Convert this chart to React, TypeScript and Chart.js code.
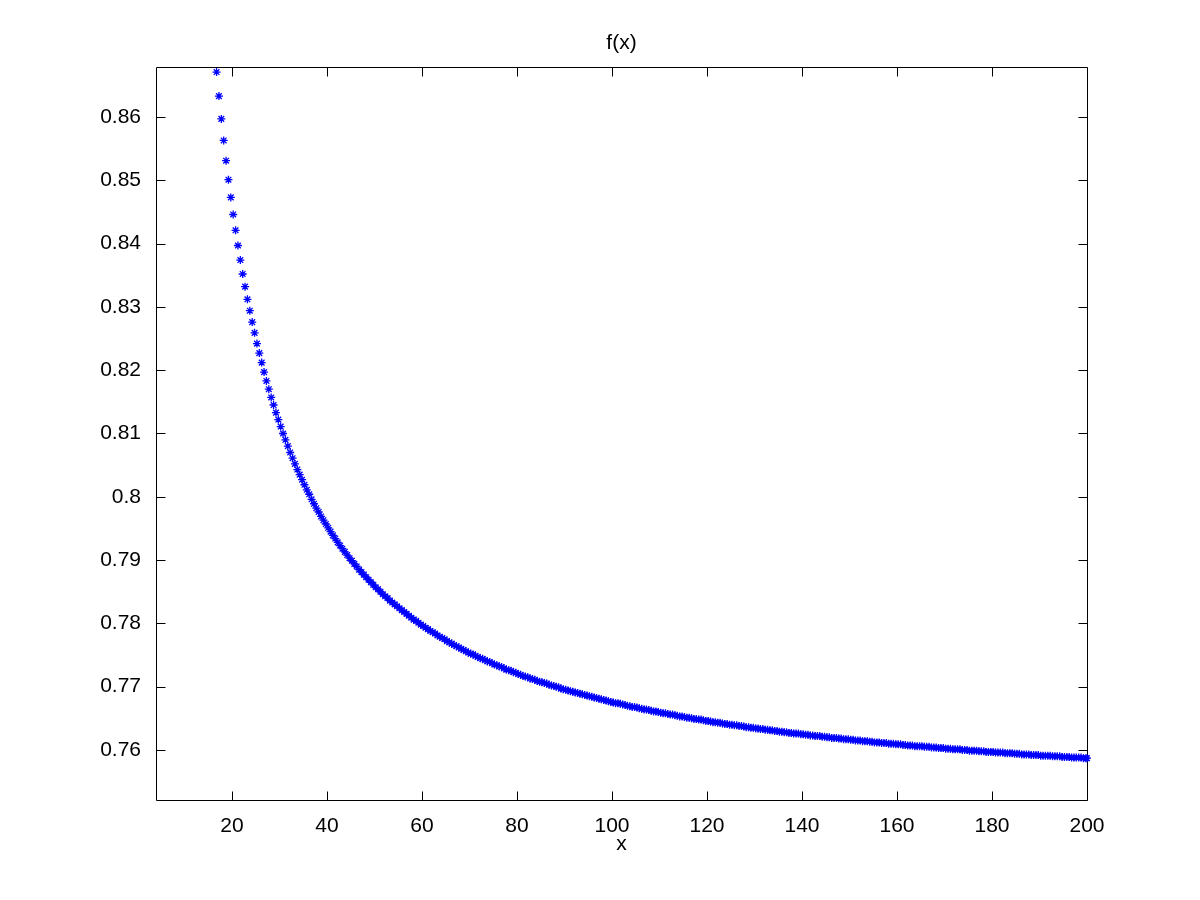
import React, { useEffect, useRef } from 'react';
import { Chart, registerables } from 'chart.js';

Chart.register(...registerables);

// ---- data (x, f(x)) ----
const xValues = [
  16.75, 17.25, 17.75, 18.25, 18.75, 19.25, 19.75, 20.25, 20.75, 21.25,
  21.75, 22.25, 22.75, 23.25, 23.75, 24.25, 24.75, 25.25, 25.75, 26.25,
  26.75, 27.25, 27.75, 28.25, 28.75, 29.25, 29.75, 30.25, 30.75, 31.25,
  31.75, 32.25, 32.75, 33.25, 33.75, 34.25, 34.75, 35.25, 35.75, 36.25,
  36.75, 37.25, 37.75, 38.25, 38.75, 39.25, 39.75, 40.25, 40.75, 41.25,
  41.75, 42.25, 42.75, 43.25, 43.75, 44.25, 44.75, 45.25, 45.75, 46.25,
  46.75, 47.25, 47.75, 48.25, 48.75, 49.25, 49.75, 50.25, 50.75, 51.25,
  51.75, 52.25, 52.75, 53.25, 53.75, 54.25, 54.75, 55.25, 55.75, 56.25,
  56.75, 57.25, 57.75, 58.25, 58.75, 59.25, 59.75, 60.25, 60.75, 61.25,
  61.75, 62.25, 62.75, 63.25, 63.75, 64.25, 64.75, 65.25, 65.75, 66.25,
  66.75, 67.25, 67.75, 68.25, 68.75, 69.25, 69.75, 70.25, 70.75, 71.25,
  71.75, 72.25, 72.75, 73.25, 73.75, 74.25, 74.75, 75.25, 75.75, 76.25,
  76.75, 77.25, 77.75, 78.25, 78.75, 79.25, 79.75, 80.25, 80.75, 81.25,
  81.75, 82.25, 82.75, 83.25, 83.75, 84.25, 84.75, 85.25, 85.75, 86.25,
  86.75, 87.25, 87.75, 88.25, 88.75, 89.25, 89.75, 90.25, 90.75, 91.25,
  91.75, 92.25, 92.75, 93.25, 93.75, 94.25, 94.75, 95.25, 95.75, 96.25,
  96.75, 97.25, 97.75, 98.25, 98.75, 99.25, 99.75, 100.25, 100.75, 101.25,
  101.75, 102.25, 102.75, 103.25, 103.75, 104.25, 104.75, 105.25, 105.75, 106.25,
  106.75, 107.25, 107.75, 108.25, 108.75, 109.25, 109.75, 110.25, 110.75, 111.25,
  111.75, 112.25, 112.75, 113.25, 113.75, 114.25, 114.75, 115.25, 115.75, 116.25,
  116.75, 117.25, 117.75, 118.25, 118.75, 119.25, 119.75, 120.25, 120.75, 121.25,
  121.75, 122.25, 122.75, 123.25, 123.75, 124.25, 124.75, 125.25, 125.75, 126.25,
  126.75, 127.25, 127.75, 128.25, 128.75, 129.25, 129.75, 130.25, 130.75, 131.25,
  131.75, 132.25, 132.75, 133.25, 133.75, 134.25, 134.75, 135.25, 135.75, 136.25,
  136.75, 137.25, 137.75, 138.25, 138.75, 139.25, 139.75, 140.25, 140.75, 141.25,
  141.75, 142.25, 142.75, 143.25, 143.75, 144.25, 144.75, 145.25, 145.75, 146.25,
  146.75, 147.25, 147.75, 148.25, 148.75, 149.25, 149.75, 150.25, 150.75, 151.25,
  151.75, 152.25, 152.75, 153.25, 153.75, 154.25, 154.75, 155.25, 155.75, 156.25,
  156.75, 157.25, 157.75, 158.25, 158.75, 159.25, 159.75, 160.25, 160.75, 161.25,
  161.75, 162.25, 162.75, 163.25, 163.75, 164.25, 164.75, 165.25, 165.75, 166.25,
  166.75, 167.25, 167.75, 168.25, 168.75, 169.25, 169.75, 170.25, 170.75, 171.25,
  171.75, 172.25, 172.75, 173.25, 173.75, 174.25, 174.75, 175.25, 175.75, 176.25,
  176.75, 177.25, 177.75, 178.25, 178.75, 179.25, 179.75, 180.25, 180.75, 181.25,
  181.75, 182.25, 182.75, 183.25, 183.75, 184.25, 184.75, 185.25, 185.75, 186.25,
  186.75, 187.25, 187.75, 188.25, 188.75, 189.25, 189.75, 190.25, 190.75, 191.25,
  191.75, 192.25, 192.75, 193.25, 193.75, 194.25, 194.75, 195.25, 195.75, 196.25,
  196.75, 197.25, 197.75, 198.25, 198.75, 199.25, 199.75, 200,
];

const yValues = [
  0.8671, 0.8633, 0.8597, 0.8563, 0.8531, 0.8501, 0.8473, 0.8446, 0.8421, 0.8397,
  0.8374, 0.8352, 0.8332, 0.8312, 0.8294, 0.8276, 0.8259, 0.8242, 0.8227, 0.8212,
  0.8197, 0.8183, 0.8170, 0.8157, 0.8145, 0.8133, 0.8122, 0.8111, 0.8100, 0.8090,
  0.8080, 0.8070, 0.8061, 0.8052, 0.8043, 0.8035, 0.8027, 0.8019, 0.8011, 0.8004,
  0.7996, 0.7989, 0.7982, 0.7976, 0.7969, 0.7963, 0.7957, 0.7951, 0.7945, 0.7939,
  0.7934, 0.7928, 0.7923, 0.7918, 0.7913, 0.7908, 0.7903, 0.7899, 0.7894, 0.7890,
  0.7885, 0.7881, 0.7877, 0.7873, 0.7869, 0.7865, 0.7861, 0.7857, 0.7854, 0.7850,
  0.7846, 0.7843, 0.7840, 0.7836, 0.7833, 0.7830, 0.7827, 0.7824, 0.7821, 0.7818,
  0.7815, 0.7812, 0.7809, 0.7806, 0.7804, 0.7801, 0.7798, 0.7796, 0.7793, 0.7791,
  0.7788, 0.7786, 0.7784, 0.7781, 0.7779, 0.7777, 0.7775, 0.7772, 0.7770, 0.7768,
  0.7766, 0.7764, 0.7762, 0.7760, 0.7758, 0.7756, 0.7754, 0.7752, 0.7751, 0.7749,
  0.7747, 0.7745, 0.7744, 0.7742, 0.7740, 0.7739, 0.7737, 0.7735, 0.7734, 0.7732,
  0.7731, 0.7729, 0.7727, 0.7726, 0.7725, 0.7723, 0.7722, 0.7720, 0.7719, 0.7717,
  0.7716, 0.7715, 0.7713, 0.7712, 0.7711, 0.7709, 0.7708, 0.7707, 0.7706, 0.7705,
  0.7703, 0.7702, 0.7701, 0.7700, 0.7699, 0.7697, 0.7696, 0.7695, 0.7694, 0.7693,
  0.7692, 0.7691, 0.7690, 0.7689, 0.7688, 0.7687, 0.7686, 0.7685, 0.7684, 0.7683,
  0.7682, 0.7681, 0.7680, 0.7679, 0.7678, 0.7677, 0.7676, 0.7675, 0.7674, 0.7674,
  0.7673, 0.7672, 0.7671, 0.7670, 0.7669, 0.7668, 0.7668, 0.7667, 0.7666, 0.7665,
  0.7664, 0.7664, 0.7663, 0.7662, 0.7661, 0.7661, 0.7660, 0.7659, 0.7658, 0.7658,
  0.7657, 0.7656, 0.7656, 0.7655, 0.7654, 0.7653, 0.7653, 0.7652, 0.7651, 0.7651,
  0.7650, 0.7649, 0.7649, 0.7648, 0.7648, 0.7647, 0.7646, 0.7646, 0.7645, 0.7644,
  0.7644, 0.7643, 0.7643, 0.7642, 0.7641, 0.7641, 0.7640, 0.7640, 0.7639, 0.7639,
  0.7638, 0.7638, 0.7637, 0.7636, 0.7636, 0.7635, 0.7635, 0.7634, 0.7634, 0.7633,
  0.7633, 0.7632, 0.7632, 0.7631, 0.7631, 0.7630, 0.7630, 0.7629, 0.7629, 0.7628,
  0.7628, 0.7627, 0.7627, 0.7626, 0.7626, 0.7626, 0.7625, 0.7625, 0.7624, 0.7624,
  0.7623, 0.7623, 0.7622, 0.7622, 0.7622, 0.7621, 0.7621, 0.7620, 0.7620, 0.7619,
  0.7619, 0.7619, 0.7618, 0.7618, 0.7617, 0.7617, 0.7617, 0.7616, 0.7616, 0.7615,
  0.7615, 0.7615, 0.7614, 0.7614, 0.7614, 0.7613, 0.7613, 0.7612, 0.7612, 0.7612,
  0.7611, 0.7611, 0.7611, 0.7610, 0.7610, 0.7610, 0.7609, 0.7609, 0.7609, 0.7608,
  0.7608, 0.7607, 0.7607, 0.7607, 0.7606, 0.7606, 0.7606, 0.7606, 0.7605, 0.7605,
  0.7605, 0.7604, 0.7604, 0.7604, 0.7603, 0.7603, 0.7603, 0.7602, 0.7602, 0.7602,
  0.7601, 0.7601, 0.7601, 0.7601, 0.7600, 0.7600, 0.7600, 0.7599, 0.7599, 0.7599,
  0.7599, 0.7598, 0.7598, 0.7598, 0.7597, 0.7597, 0.7597, 0.7597, 0.7596, 0.7596,
  0.7596, 0.7596, 0.7595, 0.7595, 0.7595, 0.7595, 0.7594, 0.7594, 0.7594, 0.7593,
  0.7593, 0.7593, 0.7593, 0.7592, 0.7592, 0.7592, 0.7592, 0.7591, 0.7591, 0.7591,
  0.7591, 0.7591, 0.7590, 0.7590, 0.7590, 0.7590, 0.7589, 0.7589, 0.7589, 0.7589,
  0.7588, 0.7588, 0.7588, 0.7588, 0.7588, 0.7587, 0.7587, 0.7587,
];

const xTicks = [20, 40, 60, 80, 100, 120, 140, 160, 180, 200];
const yTicks = [0.76, 0.77, 0.78, 0.79, 0.8, 0.81, 0.82, 0.83, 0.84, 0.85, 0.86];
const xLimits = [4, 200];
const yLimits = [0.7521, 0.8679];
const titleText = 'f(x)';
const xLabelText = 'x';

const FONT = "'Liberation Sans', Arial, Helvetica, sans-serif";
const FONT_SIZE = 21;
const TICK_LEN = 9;

const matlabAxesPlugin = {
  id: 'matlabAxes',
  beforeDatasetsDraw(chart: any) {
    const { ctx, chartArea, scales } = chart;
    const L = Math.round(chartArea.left) + 0.5;
    const R = Math.round(chartArea.right) + 0.5;
    const T = Math.round(chartArea.top) + 0.5;
    const B = Math.round(chartArea.bottom) + 0.5;
    ctx.save();
    ctx.strokeStyle = '#000000';
    ctx.lineWidth = 1;
    ctx.beginPath();
    ctx.rect(L, T, R - L, B - T);
    for (const t of scales.x.ticks) {
      const px = Math.round(scales.x.getPixelForValue(t.value)) + 0.5;
      ctx.moveTo(px, B);
      ctx.lineTo(px, B - TICK_LEN);
      ctx.moveTo(px, T);
      ctx.lineTo(px, T + TICK_LEN);
    }
    for (const t of scales.y.ticks) {
      const py = Math.round(scales.y.getPixelForValue(t.value)) + 0.5;
      ctx.moveTo(L, py);
      ctx.lineTo(L + TICK_LEN, py);
      ctx.moveTo(R, py);
      ctx.lineTo(R - TICK_LEN, py);
    }
    ctx.stroke();
    ctx.restore();
  },
};

export default function App() {
  const canvasRef = useRef<HTMLCanvasElement | null>(null);

  useEffect(() => {
    const canvas = canvasRef.current;
    if (!canvas) return;
    const points = xValues.map((x, i) => ({ x, y: yValues[i] }));
    const chart = new Chart(canvas, {
      type: 'scatter',
      data: {
        datasets: [
          {
            data: points,
            showLine: false,
            pointStyle: 'star',
            pointRadius: 4,
            pointHoverRadius: 4,
            borderColor: '#0000ff',
            backgroundColor: '#0000ff',
            borderWidth: 1.3,
            clip: false,
          } as any,
        ],
      },
      options: {
        responsive: false,
        maintainAspectRatio: false,
        animation: false,
        events: [],
        layout: { padding: { left: 0, top: 0, right: 113, bottom: 0 } },
        plugins: {
          legend: { display: false },
          tooltip: { enabled: false },
          title: {
            display: true,
            fullSize: false,
            text: titleText,
            color: '#000000',
            font: { family: FONT, size: FONT_SIZE, weight: 'normal' as any, lineHeight: 1.2 },
            padding: { top: 31, bottom: 10.8 },
          },
        },
        scales: {
          x: {
            type: 'linear',
            position: 'bottom',
            min: xLimits[0],
            max: xLimits[1],
            grid: { display: false },
            border: { display: false },
            afterBuildTicks: (scale: any) => {
              scale.ticks = xTicks.map((v) => ({ value: v }));
            },
            afterFit: (scale: any) => {
              scale.height = 100;
            },
            ticks: {
              autoSkip: false,
              maxRotation: 0,
              minRotation: 0,
              padding: 6,
              color: '#000000',
              font: { family: FONT, size: FONT_SIZE },
              callback: (v: any) => String(v),
            },
            title: {
              display: true,
              text: xLabelText,
              color: '#000000',
              font: { family: FONT, size: FONT_SIZE, lineHeight: 1.2 },
              padding: { top: 0, bottom: 43 },
            },
          },
          y: {
            type: 'linear',
            position: 'left',
            min: yLimits[0],
            max: yLimits[1],
            grid: { display: false },
            border: { display: false },
            afterBuildTicks: (scale: any) => {
              scale.ticks = yTicks.map((v) => ({ value: v }));
            },
            afterFit: (scale: any) => {
              scale.width = 156;
            },
            ticks: {
              autoSkip: false,
              padding: 7,
              color: '#000000',
              font: { family: FONT, size: FONT_SIZE },
              callback: (v: any) => String(parseFloat(Number(v).toFixed(2))),
            },
          },
        },
      },
      plugins: [matlabAxesPlugin],
    });
    return () => chart.destroy();
  }, []);

  return (
    <div
      style={{
        position: 'absolute',
        left: 0,
        top: 0,
        width: 1200,
        height: 900,
        background: '#ffffff',
      }}
    >
      <canvas ref={canvasRef} width={1200} height={900} style={{ display: 'block' }} />
    </div>
  );
}
